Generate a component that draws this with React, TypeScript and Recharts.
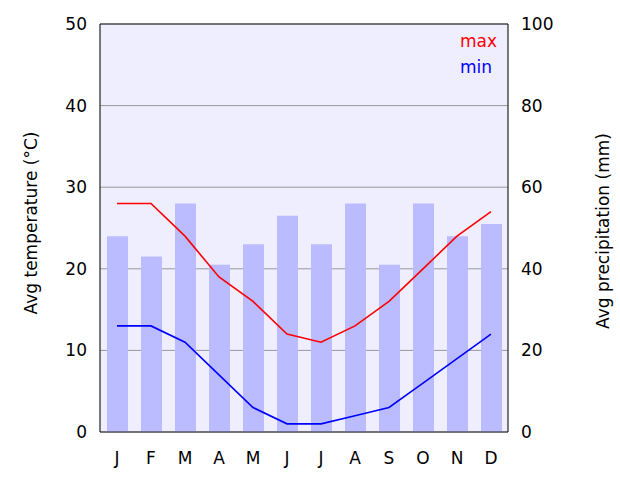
import React from 'react';
import { ComposedChart, Bar, Line, XAxis, YAxis, CartesianGrid, ReferenceLine, Legend } from 'recharts';

const months = ['J', 'F', 'M', 'A', 'M', 'J', 'J', 'A', 'S', 'O', 'N', 'D'];
const maxTemp = [28, 28, 24, 19, 16, 12, 11, 13, 16, 20, 24, 27];
const minTemp = [13, 13, 11, 7, 3, 1, 1, 2, 3, 6, 9, 12];
const precip = [48, 43, 56, 41, 46, 53, 46, 56, 41, 56, 48, 51];
const tempTicks = [0, 10, 20, 30, 40, 50];
const precipTicks = [0, 20, 40, 60, 80, 100];

const data = months.map((m, i) => ({
  key: `${m}${i}`,
  month: m,
  max: maxTemp[i],
  min: minTemp[i],
  precip: precip[i],
}));

const FONT = 'DejaVu Sans, sans-serif';
const FS = 17;
const tickStyle = { fill: '#000', fontSize: FS, fontFamily: FONT };

const LegendContent = () => (
  <div style={{ fontFamily: FONT, fontSize: FS, lineHeight: '26px', textAlign: 'left' }}>
    <div style={{ color: '#ff0000' }}>max</div>
    <div style={{ color: '#0000ff' }}>min</div>
  </div>
);

const LeftTitle = (props: any) => {
  const vb = props.viewBox || { x: 0, y: 24, width: 100, height: 408 };
  const x = vb.x + 36.5;
  const y = vb.y + vb.height / 2 - 5;
  return (
    <text x={x} y={y} transform={`rotate(-90, ${x}, ${y})`} textAnchor="middle" fontSize={FS} fontFamily={FONT} fill="#000">
      Avg temperature (°C)
    </text>
  );
};

const RightTitle = (props: any) => {
  const vb = props.viewBox || { x: 508, y: 24, width: 112, height: 408 };
  const x = vb.x + 100.5;
  const y = vb.y + vb.height / 2 + 3;
  return (
    <text x={x} y={y} transform={`rotate(-90, ${x}, ${y})`} textAnchor="middle" fontSize={FS} fontFamily={FONT} fill="#000">
      Avg precipitation (mm)
    </text>
  );
};

export default function App() {
  return (
    <div style={{ position: 'absolute', left: 0, top: 0, width: 620, height: 484, background: '#fff', fontFamily: FONT }}>
      <ComposedChart
        width={620}
        height={484}
        data={data}
        margin={{ top: 24, right: 0, bottom: 0, left: 0 }}
        barSize={21}
      >
        <CartesianGrid yAxisId="left" vertical={false} stroke="#999" fill="#eeeeff" fillOpacity={1} />
        <XAxis
          dataKey="key"
          tickFormatter={(_v: any, i: number) => months[i]}
          height={52}
          tickLine={false}
          tickMargin={14}
          axisLine={{ stroke: '#222', strokeWidth: 1.2 }}
          tick={tickStyle}
          interval={0}
        />
        <YAxis
          yAxisId="left"
          orientation="left"
          domain={[0, 50]}
          ticks={tempTicks}
          width={100}
          tickLine={false}
          tickMargin={7}
          axisLine={{ stroke: '#222', strokeWidth: 1.2 }}
          tick={tickStyle}
          label={{ content: LeftTitle }}
        />
        <YAxis
          yAxisId="right"
          orientation="right"
          domain={[0, 100]}
          ticks={precipTicks}
          width={112}
          tickLine={false}
          tickMargin={7}
          axisLine={{ stroke: '#222', strokeWidth: 1.2 }}
          tick={tickStyle}
          label={{ content: RightTitle }}
        />
        <ReferenceLine yAxisId="left" y={50} stroke="#222" strokeWidth={1.2} />
        <Bar yAxisId="right" dataKey="precip" name="precipitation" fill="#bbbbff" isAnimationActive={false} />
        <Line yAxisId="left" type="linear" dataKey="max" name="max" stroke="#ff0000" strokeWidth={1.6} dot={false} activeDot={false} isAnimationActive={false} />
        <Line yAxisId="left" type="linear" dataKey="min" name="min" stroke="#0000ff" strokeWidth={1.6} dot={false} activeDot={false} isAnimationActive={false} />
        <Legend
          layout="vertical"
          align="center"
          verticalAlign="middle"
          content={LegendContent}
          wrapperStyle={{ left: 460, top: 28, width: 50, height: 56 }}
        />
      </ComposedChart>
    </div>
  );
}
